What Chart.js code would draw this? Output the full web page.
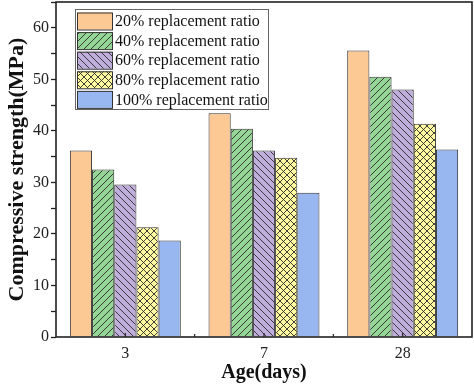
<!DOCTYPE html>
<html>
<head>
<meta charset="utf-8">
<script src="https://cdn.jsdelivr.net/npm/chart.js@4/dist/chart.umd.min.js"></script>
<style>
  html, body { margin: 0; padding: 0; background: #fff; }
  #chart { display: block; }
</style>
</head>
<body>
<canvas id="chart" width="474" height="391"></canvas>
<script>
// data
const ages = ['3', '7', '28'];
const r20 = [36.2, 43.4, 55.6];
const r40 = [32.5, 40.4, 50.5];
const r60 = [29.6, 36.2, 48.0];
const r80 = [21.3, 34.8, 41.4];
const r100 = [18.7, 28.0, 36.4];
const seriesNames = ['20% replacement ratio', '40% replacement ratio', '60% replacement ratio', '80% replacement ratio', '100% replacement ratio'];

const serif = '"Liberation Serif", "Times New Roman", serif';

// hatch fills
function makePattern(bg, kind) {
  const s = 7;
  const c = document.createElement('canvas');
  c.width = s; c.height = s;
  const g = c.getContext('2d');
  g.fillStyle = bg;
  g.fillRect(0, 0, s, s);
  g.strokeStyle = '#2a2a2a';
  g.lineWidth = 0.9;
  if (kind === 'fwd' || kind === 'cross') {
    g.beginPath();
    g.moveTo(-1, s + 1); g.lineTo(s + 1, -1);
    g.moveTo(-2, 1); g.lineTo(1, -2);
    g.moveTo(s - 1, s + 2); g.lineTo(s + 2, s - 1);
    g.stroke();
  }
  if (kind === 'back' || kind === 'cross') {
    g.beginPath();
    g.moveTo(-1, -1); g.lineTo(s + 1, s + 1);
    g.moveTo(-2, s - 1); g.lineTo(1, s + 2);
    g.moveTo(s - 1, -2); g.lineTo(s + 2, 1);
    g.stroke();
  }
  return g.createPattern(c, 'repeat');
}

const fills = [
  '#fcc894',
  makePattern('#95d596', 'fwd'),
  makePattern('#bfaedb', 'back'),
  makePattern('#fff9a0', 'cross'),
  '#98b6ef'
];

const values = [r20, r40, r60, r80, r100];

const frameAndLegend = {
  id: 'frameAndLegend',
  afterDatasetsDraw(chart) {
    const ctx = chart.ctx;
    const a = chart.chartArea;
    ctx.save();
    ctx.strokeStyle = '#222';
    ctx.lineWidth = 1.6;
    ctx.strokeRect(a.left, a.top, a.right - a.left, a.bottom - a.top);

    // small inward ticks on the x axis
    const xs = chart.scales.x;
    ctx.lineWidth = 1.2;
    ctx.beginPath();
    for (let i = 0; i < ages.length; i++) {
      const px = xs.getPixelForValue(i);
      ctx.moveTo(px, a.bottom); ctx.lineTo(px, a.bottom - 4);
      if (i < ages.length - 1) {
        const mid = (px + xs.getPixelForValue(i + 1)) / 2;
        ctx.moveTo(mid, a.bottom); ctx.lineTo(mid, a.bottom - 3);
      }
    }
    ctx.stroke();

    // legend inside the plot
    const lx = a.left + 19, ly = a.top + 7;
    const rowH = 19.6, boxW = 35, boxH = 17;
    const w = 193, h = 100;
    ctx.fillStyle = '#fff';
    ctx.fillRect(lx, ly, w, h);
    ctx.strokeStyle = '#666';
    ctx.lineWidth = 1;
    ctx.strokeRect(lx + 0.5, ly + 0.5, w, h);
    ctx.font = '16px ' + serif;
    ctx.textBaseline = 'middle';
    chart.data.datasets.forEach((ds, i) => {
      const cy = ly + 12 + i * rowH;
      ctx.fillStyle = ds.backgroundColor;
      ctx.fillRect(lx + 2, cy - boxH / 2, boxW, boxH);
      ctx.strokeStyle = '#333';
      ctx.lineWidth = 1;
      ctx.strokeRect(lx + 2.5, cy - boxH / 2 + 0.5, boxW, boxH);
      ctx.fillStyle = '#111';
      ctx.fillText(ds.label, lx + 40, cy + 1);
    });
    ctx.restore();
  }
};

new Chart(document.getElementById('chart'), {
  type: 'bar',
  data: {
    labels: ages,
    datasets: values.map((v, i) => ({
      label: seriesNames[i],
      data: v,
      backgroundColor: fills[i],
      borderColor: '#333',
      borderWidth: 1,
      categoryPercentage: 0.8,
      barPercentage: 1.0
    }))
  },
  options: {
    responsive: false,
    animation: false,
    layout: { padding: { top: 2, right: 2, left: 0, bottom: 0 } },
    plugins: {
      legend: { display: false },
      tooltip: { enabled: false }
    },
    scales: {
      x: {
        grid: { display: false, drawTicks: false },
        border: { display: false },
        ticks: { color: '#222', font: { family: serif, size: 16 }, padding: 7 },
        title: {
          display: true,
          text: 'Age(days)',
          color: '#111',
          font: { family: serif, size: 20, weight: 'bold' },
          padding: { top: 0, bottom: 6 }
        },
        afterFit(scale) { scale.height = 54; }
      },
      y: {
        min: 0,
        max: 65,
        grid: { drawOnChartArea: false, drawTicks: true, tickLength: 5, tickColor: '#222', tickWidth: 1.3 },
        border: { display: false },
        ticks: {
          stepSize: 5,
          padding: 2,
          color: '#222',
          font: { family: serif, size: 16 },
          callback: v => (v % 10 === 0 ? v : '')
        },
        title: {
          display: true,
          text: 'Compressive strength(MPa)',
          color: '#111',
          font: { family: serif, size: 22, weight: 'bold' },
          padding: { top: 4, bottom: 0 }
        },
        afterFit(scale) {
          scale.width = 56;
          scale.paddingTop = 0;
          scale.paddingBottom = 0;
        }
      }
    }
  },
  plugins: [frameAndLegend]
});
</script>
</body>
</html>
